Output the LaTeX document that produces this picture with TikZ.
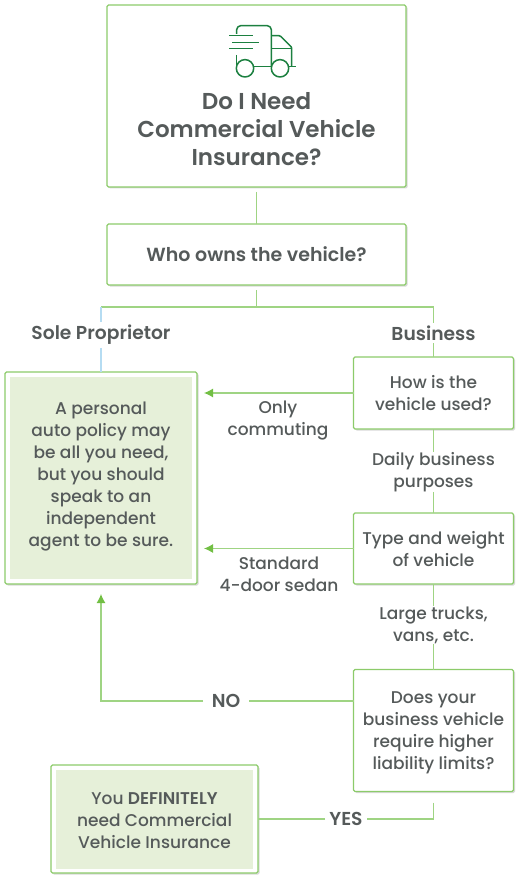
\documentclass[tikz,border=0pt]{standalone}
\usepackage{fontspec}
\setmainfont{Poppins Medium}[BoldFont={Poppins SemiBold}]
\usetikzlibrary{arrows.meta,shadows}
\definecolor{boxgreen}{HTML}{8CCB6A}
\definecolor{linegreen}{HTML}{9FD483}
\definecolor{arrowgreen}{HTML}{72BF44}
\definecolor{fillgreen}{HTML}{E6F0D9}
\definecolor{truckgreen}{HTML}{1C8040}
\definecolor{linkblue}{HTML}{B5DCF2}
\definecolor{textgray}{HTML}{555A5A}
\begin{document}
\begin{tikzpicture}[
        x=1pt, y=-1pt,
        plain_box/.style={draw=boxgreen, line width=1.2pt, rounded corners=1.5pt, fill=white, outer sep=0pt, align=center, text=textgray,
            drop shadow={shadow xshift=1.5pt, shadow yshift=-1.5pt, opacity=0.15, fill=black}},
        fill_box/.style={fill=fillgreen, outer sep=0pt, inner sep=0pt},
        body_text/.style={font=\fontsize{17}{22}\selectfont, text=textgray, align=center, inner sep=0pt},
        head_text/.style={font=\fontsize{19}{24}\selectfont\bfseries},
        edge_label/.style={body_text},
        head_label/.style={font=\fontsize{18.7}{24}\selectfont\bfseries, text=textgray, inner sep=0pt, outer sep=3pt},
        link/.style={draw=linegreen, line width=1.2pt},
        blue_link/.style={draw=linkblue, line width=1.2pt},
        arrow_link/.style={draw=linegreen, line width=1.2pt, -{Latex[length=9pt,width=9pt,color=arrowgreen]}},
        truck/.style={draw=truckgreen, line width=1.5pt, line join=round}
    ]
        \useasboundingbox (0,0) rectangle (523,882);

        % Top boxes
        \node[plain_box, minimum width=299pt, minimum height=182pt] (title) at (256.5,96) {};
        \node[text=textgray, align=center, font=\fontsize{23}{28}\selectfont\bfseries] (title_text) at (256.5,129) {Do I Need\\Commercial Vehicle\\Insurance?};
        \node[plain_box, head_text, minimum width=299pt, minimum height=61pt] (owner) at (256.5,254.5) {Who owns the vehicle?};

        % Truck icon
        \draw[truck, rounded corners=4pt] (236.7,34) -- (236.7,25.7) -- (271.3,25.7) -- (271.3,66.7);
        \draw[truck, rounded corners=1pt] (271.3,35.7) -- (280,35.7) -- (291.7,47.3) -- (291.7,66.7);
        \draw[truck] (271.3,48.3) -- (291.7,48.3);
        \draw[truck] (229,35.7) -- (252.7,35.7);
        \draw[truck] (232.3,42.3) -- (259.3,42.3);
        \draw[truck] (229,48.3) -- (252.7,48.3);
        \draw[truck] (236.7,55) -- (236.7,68.3);
        \draw[truck] (245,68.3) circle[radius=8.7];
        \draw[truck] (280,68.3) circle[radius=8.7];
        \draw[truck] (253.5,66.7) -- (271.3,66.7);
        \draw[truck] (288.5,66.7) -- (296,66.7);

        % Outcome boxes
        \node[plain_box, minimum width=192pt, minimum height=212pt] (sole) at (101,478) {};
        \node[fill_box, minimum width=182pt, minimum height=202pt] (sole_fill) at (101,478) {};
        \node[body_text] (sole_text) at (101,477) {A personal\\auto policy may\\be all you need,\\but you should\\speak to an\\independent\\agent to be sure.};
        \node[plain_box, minimum width=207pt, minimum height=108pt] (you) at (154.5,819) {};
        \node[fill_box, minimum width=197pt, minimum height=99pt] (you_fill) at (154.5,819) {};
        \node[body_text] (you_text) at (154.5,821) {You \textbf{DEFINITELY}\\need Commercial\\Vehicle Insurance};

        % Question boxes
        \node[plain_box, minimum width=160pt, minimum height=72pt] (used) at (433.5,393) {};
        \node[body_text] (used_text) at (433.5,393) {How is the\\vehicle used?};
        \node[plain_box, minimum width=160pt, minimum height=71pt] (weight) at (433.5,548.5) {};
        \node[body_text] (weight_text) at (433.5,549.5) {Type and weight\\of vehicle};
        \node[plain_box, minimum width=160pt, minimum height=122pt] (limits) at (433.5,730.5) {};
        \node[body_text] (limits_text) at (433.5,732.5) {Does your\\business vehicle\\require higher\\liability limits?};

        % Labels
        \node[head_label] (sole_label) at (101,335) {Sole Proprietor};
        \node[head_label] (business_label) at (433.5,333) {Business};
        \node[edge_label] (commuting) at (278,421) {Only\\commuting};
        \node[edge_label] (daily) at (433.5,472) {Daily business\\purposes};
        \node[edge_label] (sedan) at (279,574) {Standard\\4-door sedan};
        \node[edge_label] (trucks) at (433.5,625) {Large trucks,\\vans, etc.};
        \node[head_label, outer sep=0pt, minimum width=46pt] (no) at (226,701) {NO};
        \node[head_label, outer sep=0pt, minimum width=42pt] (yes) at (346,819) {YES};
        \coordinate (fork) at (256.5,307);

        % Links
        \draw[link, shorten <=5pt] (title) -- (owner);
        \draw[link, shorten <=5pt] (owner) -- (fork);
        \draw[link] (fork) -| (business_label);
        \draw[link] (business_label) -- (used);
        \draw[link] (fork) -- (fork -| sole);
        \draw[blue_link] (fork -| sole) -- (sole_label);
        \draw[blue_link] (sole_label) -- (sole);
        \draw[link] (used) -- (daily);
        \draw[link] (daily) -- (weight);
        \draw[link] (weight) -- (trucks);
        \draw[link] (trucks) -- (limits);
        \draw[link] (no -| limits.west) -- (no);
        \draw[link, shorten <=11pt] (limits.south) |- (yes);
        \draw[link] (yes) -- (you);

        % Arrows into the sole box
        \draw[arrow_link, shorten >=7pt] (used) -- (used.west -| sole.east);
        \draw[arrow_link, shorten >=7pt] (weight) -- (weight.west -| sole.east);
        \draw[arrow_link, shorten >=10pt] (no) -| (sole);
    \end{tikzpicture}
\end{document}
